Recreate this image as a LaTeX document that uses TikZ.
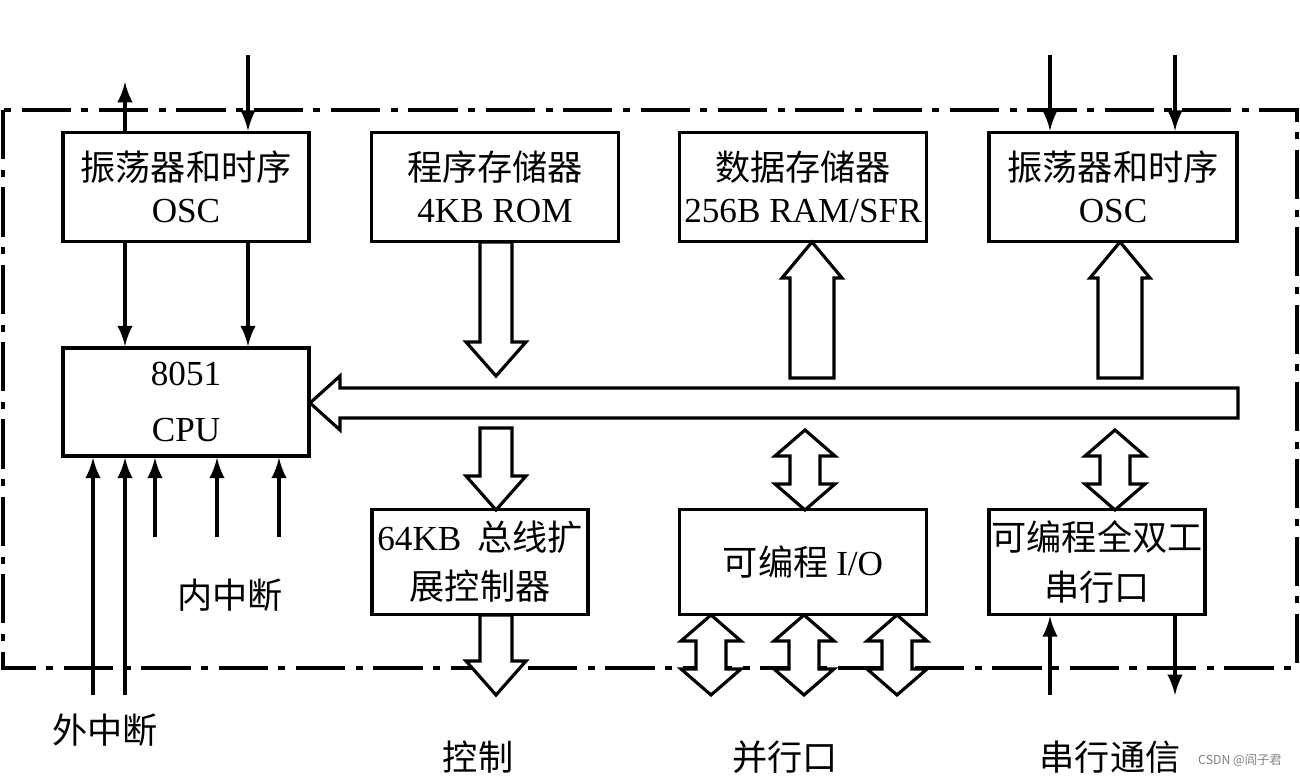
\documentclass[tikz,border=0pt]{standalone}
\usepackage{fontspec}
\setmainfont{Liberation Serif}
\newfontfamily\cjk{Noto Sans CJK SC}
\begin{document}
\begin{tikzpicture}[x=0.01cm,y=-0.01cm,
 box/.style={draw,line width=1pt,inner sep=0,align=center,font=\cjk\fontsize{10}{14}\selectfont},
 hol/.style={draw,fill=white,line width=0.9pt},
 ar/.style={-latex,line width=1pt},
 lab/.style={font=\cjk\fontsize{10}{12}\selectfont}]
\useasboundingbox (0,0) rectangle (1300,777);
\newcommand\hup[3]{\draw[hol] (#1-22,#2) -- (#1-22,#3+36) -- (#1-30,#3+36) -- (#1,#3) -- (#1+30,#3+36) -- (#1+22,#3+36) -- (#1+22,#2) -- cycle;}
\newcommand\hdown[3]{\draw[hol] (#1-16,#2) -- (#1-16,#3-34) -- (#1-30,#3-34) -- (#1,#3) -- (#1+30,#3-34) -- (#1+16,#3-34) -- (#1+16,#2) -- cycle;}
\newcommand\hboth[3]{\draw[hol] (#1,#2) -- (#1+30,#2+26) -- (#1+15,#2+26) -- (#1+15,#3-26) -- (#1+30,#3-26) -- (#1,#3) -- (#1-30,#3-26) -- (#1-15,#3-26) -- (#1-15,#2+26) -- (#1-30,#2+26) -- cycle;}
\draw[line width=1pt,dash pattern=on 14pt off 3pt on 2pt off 3pt] (3,110) rectangle (1297,668);
\node[box] (osc1) at (186,187) [minimum width=2.46cm,minimum height=1.09cm] {振荡器和时序\\[-2pt]{\rmfamily OSC}};
\node[box] (rom) at (495,187) [minimum width=2.47cm,minimum height=1.09cm] {程序存储器\\[-2pt]{\rmfamily 4KB ROM}};
\node[box] (ram) at (803,187) [minimum width=2.47cm,minimum height=1.09cm] {数据存储器\\[-2pt]{\rmfamily 256B RAM/SFR}};
\node[box] (osc2) at (1113,187) [minimum width=2.48cm,minimum height=1.09cm] {振荡器和时序\\[-2pt]{\rmfamily OSC}};
\node[box] (cpu) at (186,402) [minimum width=2.46cm,minimum height=1.08cm,font=\rmfamily\fontsize{10}{16}\selectfont] {8051\\CPU};
\node[box] (bus) at (480,562) [minimum width=2.16cm,minimum height=1.05cm] {{\rmfamily 64KB}\ \ 总线扩\\展控制器};
\node[box] (io) at (803,562) [minimum width=2.47cm,minimum height=1.05cm] {可编程 {\rmfamily I/O}};
\node[box] (ser) at (1097,562) [minimum width=2.16cm,minimum height=1.05cm] {可编程全双工\\串行口};
% thin arrows
\coordinate (t1) at (125,82); \coordinate (t2) at (248,55);
\coordinate (t3) at (1050,55); \coordinate (t4) at (1175,55);
\draw[ar] (osc1.north -| t1) -- (t1);
\draw[ar] (t2) -- (osc1.north -| t2);
\draw[ar] (t3) -- (osc2.north -| t3);
\draw[ar] (t4) -- (osc2.north -| t4);
\draw[ar] (osc1.south -| t1) -- (cpu.north -| t1);
\draw[ar] (osc1.south -| t2) -- (cpu.north -| t2);
\foreach \x/\y in {93/695,125/695,155/537,217/537,279/537}{
 \coordinate (b\x) at (\x,\y);
 \draw[ar] (b\x) -- (cpu.south -| b\x);}
\coordinate (s1) at (1050,695); \coordinate (s2) at (1175,695);
\draw[ar] (s1) -- (ser.south -| s1);
\draw[ar] (ser.south -| s2) -- (s2);
% hollow arrows
\draw[hol] (1238,388) -- (1238,418) -- (340,418) -- (340,430) -- (310,403) -- (340,376) -- (340,388) -- cycle;
\hdown{496}{242}{376}
\hdown{496}{428}{510}
\hdown{496}{615}{695}
\hup{812}{378}{242}
\hup{1120}{378}{242}
\hboth{805}{430}{510}
\hboth{1115}{430}{510}
\hboth{711}{615}{695}
\hboth{804}{615}{695}
\hboth{897}{615}{695}
% labels
\node[lab] (l1) at (230,595) {内中断};
\node[lab] (l2) at (105,730) {外中断};
\node[lab] (l3) at (478,757) {控制};
\node[lab] (l4) at (785,757) {并行口};
\node[lab] (l5) at (1110,757) {串行通信};
\node[font=\cjk\fontsize{3.5}{4}\selectfont,text=gray] (wm) at (1240,760) {CSDN @阎子君};
\end{tikzpicture}
\end{document}
